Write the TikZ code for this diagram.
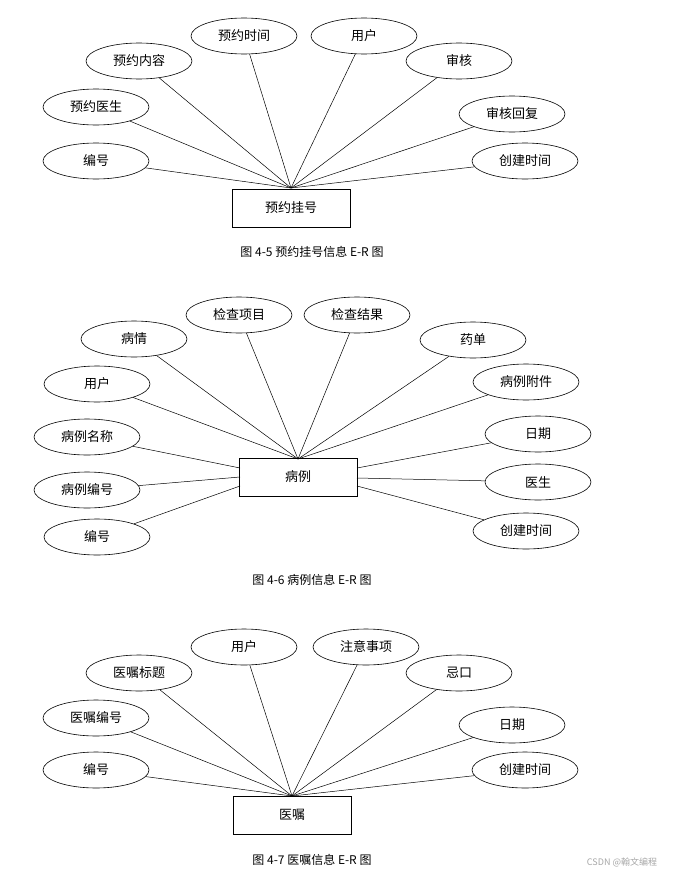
\documentclass[tikz,border=0pt]{standalone}
\usepackage{fontspec}
\setmainfont{Liberation Serif}
\newfontfamily\cjk{Noto Sans CJK SC}
\usetikzlibrary{shapes.geometric}
\begin{document}
\begin{tikzpicture}[x=1pt,y=-1pt,
  attr/.style={ellipse,draw,line width=0.6pt,minimum width=106pt,minimum height=36pt,inner sep=0pt,font=\cjk\fontsize{13}{13}\selectfont},
  ent/.style={rectangle,draw,line width=0.6pt,minimum width=118pt,minimum height=38pt,inner sep=0pt,font=\cjk\fontsize{13}{13}\selectfont},
  captxt/.style={font=\cjk\fontsize{12}{12}\selectfont},
  lk/.style={line width=0.5pt}]
\useasboundingbox (0,0) rectangle (681,878);
% Diagram 1
\node[ent] (e1) at (291,208) {预约挂号};
\coordinate (c1) at (291,188);
\node[attr] (a11) at (139,61) {预约内容};
\node[attr] (a12) at (244,36) {预约时间};
\node[attr] (a13) at (364,36) {用户};
\node[attr] (a14) at (459,61) {审核};
\node[attr] (a15) at (96,107) {预约医生};
\node[attr] (a16) at (512,114) {审核回复};
\node[attr] (a17) at (96,161) {编号};
\node[attr] (a18) at (525,161) {创建时间};
\foreach \n in {a11,a12,a13,a14,a15,a16,a17,a18} \draw[lk] (\n) -- (c1);
\node[captxt] (t1) at (312,252) {图 4-5 预约挂号信息 E-R 图};
% Diagram 2
\node[ent] (e2) at (298,477) {病例};
\coordinate (c2) at (298,459);
\node[attr] (a21) at (239,315) {检查项目};
\node[attr] (a22) at (357,315) {检查结果};
\node[attr] (a23) at (134,339) {病情};
\node[attr] (a24) at (473,340) {药单};
\node[attr] (a25) at (97,384) {用户};
\node[attr] (a26) at (526,382) {病例附件};
\node[attr] (a27) at (87,437) {病例名称};
\node[attr] (a28) at (538,434) {日期};
\node[attr] (a29) at (87,490) {病例编号};
\node[attr] (a210) at (538,482) {医生};
\node[attr] (a211) at (97,537) {编号};
\node[attr] (a212) at (526,531) {创建时间};
\foreach \n in {a21,a22,a23,a24,a25,a26} \draw[lk] (\n) -- (c2);
\coordinate (l1) at (240,468); \coordinate (l2) at (240,477); \coordinate (l3) at (240,486);
\coordinate (r1) at (357,468); \coordinate (r2) at (357,478); \coordinate (r3) at (357,486);
\draw[lk] (a27) -- (l1); \draw[lk] (a29) -- (l2); \draw[lk] (a211) -- (l3);
\draw[lk] (a28) -- (r1); \draw[lk] (a210) -- (r2); \draw[lk] (a212) -- (r3);
\node[captxt] (t2) at (312,580) {图 4-6 病例信息 E-R 图};
% Diagram 3
\node[ent] (e3) at (292,815) {医嘱};
\coordinate (c3) at (292,796);
\node[attr] (a31) at (244,647) {用户};
\node[attr] (a32) at (366,647) {注意事项};
\node[attr] (a33) at (139,673) {医嘱标题};
\node[attr] (a34) at (459,673) {忌口};
\node[attr] (a35) at (96,718) {医嘱编号};
\node[attr] (a36) at (512,725) {日期};
\node[attr] (a37) at (96,770) {编号};
\node[attr] (a38) at (525,770) {创建时间};
\foreach \n in {a31,a32,a33,a34,a35,a36,a37,a38} \draw[lk] (\n) -- (c3);
\node[captxt] (t3) at (312,860) {图 4-7 医嘱信息 E-R 图};
\node[font=\cjk\fontsize{9}{9}\selectfont,text=gray!70] (wm) at (622,862) {CSDN @翰文编程};
\end{tikzpicture}
\end{document}
